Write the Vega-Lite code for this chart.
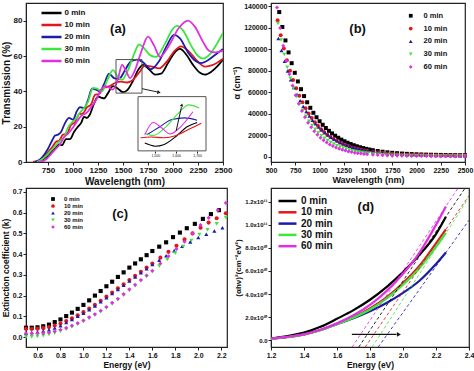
{
"$schema":"https://vega.github.io/schema/vega-lite/v6.json",
"padding":{"left":0,"top":1,"right":0,"bottom":0},
"background":"white",
"bounds":"flush",
"columns":2,
"spacing":{"row":26,"column":44},
"config":{"font":"Liberation Sans","view":{"stroke":"#222","strokeWidth":1.2},
"axis":{"grid":false,"labelFontWeight":"bold","titleFontWeight":"bold","domainColor":"#222","tickColor":"#222","labelColor":"#111","titleColor":"#111","tickSize":3,"labelPadding":1,"titlePadding":2,"labelOverlap":false,"labelFlush":false},
"legend":{"labelFontWeight":"bold","labelColor":"#111","padding":0}},
"resolve":{"scale":{"color":"independent","shape":"independent"},"legend":{"color":"independent","shape":"independent"}},
"datasets":{
"ta":[
{"s":"0 min","w":600,"t":0},{"s":"0 min","w":650,"t":0.3},{"s":"0 min","w":700,"t":1.5},{"s":"0 min","w":750,"t":3.5},{"s":"0 min","w":790,"t":6},{"s":"0 min","w":830,"t":8},{"s":"0 min","w":860,"t":10},{"s":"0 min","w":890,"t":9.5},{"s":"0 min","w":930,"t":13},{"s":"0 min","w":970,"t":13},{"s":"0 min","w":1010,"t":17},{"s":"0 min","w":1050,"t":20},{"s":"0 min","w":1080,"t":22},{"s":"0 min","w":1110,"t":25.5},{"s":"0 min","w":1140,"t":25},{"s":"0 min","w":1170,"t":27},{"s":"0 min","w":1210,"t":33},{"s":"0 min","w":1250,"t":37},{"s":"0 min","w":1280,"t":36.5},{"s":"0 min","w":1310,"t":36},{"s":"0 min","w":1350,"t":39},{"s":"0 min","w":1400,"t":43},{"s":"0 min","w":1450,"t":41.5},{"s":"0 min","w":1500,"t":39.5},{"s":"0 min","w":1540,"t":40.5},{"s":"0 min","w":1600,"t":46},{"s":"0 min","w":1650,"t":52},{"s":"0 min","w":1700,"t":55},{"s":"0 min","w":1760,"t":52.5},{"s":"0 min","w":1820,"t":49.5},{"s":"0 min","w":1880,"t":50},{"s":"0 min","w":1950,"t":56},{"s":"0 min","w":2010,"t":61.5},{"s":"0 min","w":2070,"t":64},{"s":"0 min","w":2130,"t":61},{"s":"0 min","w":2200,"t":55},{"s":"0 min","w":2270,"t":50.5},{"s":"0 min","w":2320,"t":49.5},{"s":"0 min","w":2380,"t":51},{"s":"0 min","w":2440,"t":54},{"s":"0 min","w":2500,"t":58},
{"s":"10 min","w":600,"t":0},{"s":"10 min","w":650,"t":0.5},{"s":"10 min","w":700,"t":2.5},{"s":"10 min","w":750,"t":5.5},{"s":"10 min","w":800,"t":9},{"s":"10 min","w":830,"t":11.5},{"s":"10 min","w":860,"t":12},{"s":"10 min","w":900,"t":15.5},{"s":"10 min","w":940,"t":16},{"s":"10 min","w":980,"t":21},{"s":"10 min","w":1020,"t":22.5},{"s":"10 min","w":1060,"t":27},{"s":"10 min","w":1100,"t":27.5},{"s":"10 min","w":1140,"t":31},{"s":"10 min","w":1180,"t":32.5},{"s":"10 min","w":1220,"t":38},{"s":"10 min","w":1260,"t":38.5},{"s":"10 min","w":1310,"t":42},{"s":"10 min","w":1370,"t":43},{"s":"10 min","w":1430,"t":45},{"s":"10 min","w":1480,"t":45.5},{"s":"10 min","w":1540,"t":45},{"s":"10 min","w":1600,"t":46.5},{"s":"10 min","w":1660,"t":50.5},{"s":"10 min","w":1720,"t":54.5},{"s":"10 min","w":1790,"t":54},{"s":"10 min","w":1860,"t":53},{"s":"10 min","w":1940,"t":57},{"s":"10 min","w":2010,"t":62.5},{"s":"10 min","w":2080,"t":65.5},{"s":"10 min","w":2150,"t":63},{"s":"10 min","w":2230,"t":58},{"s":"10 min","w":2320,"t":54},{"s":"10 min","w":2400,"t":55},{"s":"10 min","w":2500,"t":58.5},
{"s":"20 min","w":620,"t":0},{"s":"20 min","w":670,"t":1.5},{"s":"20 min","w":710,"t":4},{"s":"20 min","w":750,"t":7.5},{"s":"20 min","w":790,"t":12},{"s":"20 min","w":820,"t":15},{"s":"20 min","w":850,"t":15.5},{"s":"20 min","w":880,"t":17},{"s":"20 min","w":920,"t":22},{"s":"20 min","w":960,"t":25},{"s":"20 min","w":1000,"t":24},{"s":"20 min","w":1040,"t":29},{"s":"20 min","w":1070,"t":31},{"s":"20 min","w":1110,"t":30.5},{"s":"20 min","w":1150,"t":35},{"s":"20 min","w":1190,"t":41.5},{"s":"20 min","w":1230,"t":41},{"s":"20 min","w":1270,"t":40},{"s":"20 min","w":1310,"t":44},{"s":"20 min","w":1360,"t":50},{"s":"20 min","w":1410,"t":47.5},{"s":"20 min","w":1460,"t":47},{"s":"20 min","w":1520,"t":52},{"s":"20 min","w":1580,"t":57},{"s":"20 min","w":1640,"t":58},{"s":"20 min","w":1700,"t":56.5},{"s":"20 min","w":1780,"t":52.5},{"s":"20 min","w":1860,"t":57},{"s":"20 min","w":1940,"t":66},{"s":"20 min","w":2010,"t":72},{"s":"20 min","w":2070,"t":70},{"s":"20 min","w":2150,"t":62},{"s":"20 min","w":2230,"t":57},{"s":"20 min","w":2280,"t":56},{"s":"20 min","w":2360,"t":58},{"s":"20 min","w":2430,"t":61},{"s":"20 min","w":2500,"t":64},
{"s":"30 min","w":640,"t":0},{"s":"30 min","w":690,"t":1.5},{"s":"30 min","w":730,"t":3.5},{"s":"30 min","w":780,"t":6.5},{"s":"30 min","w":830,"t":9.5},{"s":"30 min","w":870,"t":12},{"s":"30 min","w":910,"t":14},{"s":"30 min","w":950,"t":19.5},{"s":"30 min","w":990,"t":22.5},{"s":"30 min","w":1030,"t":24.5},{"s":"30 min","w":1070,"t":28},{"s":"30 min","w":1110,"t":30.5},{"s":"30 min","w":1150,"t":34},{"s":"30 min","w":1200,"t":42},{"s":"30 min","w":1240,"t":41.5},{"s":"30 min","w":1290,"t":40},{"s":"30 min","w":1340,"t":46},{"s":"30 min","w":1400,"t":52},{"s":"30 min","w":1450,"t":48},{"s":"30 min","w":1490,"t":46.5},{"s":"30 min","w":1550,"t":52},{"s":"30 min","w":1610,"t":61},{"s":"30 min","w":1660,"t":66.5},{"s":"30 min","w":1710,"t":64.5},{"s":"30 min","w":1770,"t":60.5},{"s":"30 min","w":1830,"t":59.5},{"s":"30 min","w":1920,"t":67},{"s":"30 min","w":2000,"t":75.5},{"s":"30 min","w":2040,"t":77},{"s":"30 min","w":2100,"t":74.5},{"s":"30 min","w":2180,"t":66},{"s":"30 min","w":2250,"t":60},{"s":"30 min","w":2300,"t":58.5},{"s":"30 min","w":2370,"t":61},{"s":"30 min","w":2440,"t":67},{"s":"30 min","w":2500,"t":73},
{"s":"60 min","w":650,"t":0},{"s":"60 min","w":700,"t":0.5},{"s":"60 min","w":740,"t":2},{"s":"60 min","w":780,"t":4.5},{"s":"60 min","w":830,"t":7.5},{"s":"60 min","w":870,"t":10},{"s":"60 min","w":910,"t":14},{"s":"60 min","w":950,"t":16},{"s":"60 min","w":1000,"t":19.5},{"s":"60 min","w":1040,"t":23},{"s":"60 min","w":1090,"t":26.5},{"s":"60 min","w":1130,"t":27.5},{"s":"60 min","w":1180,"t":31},{"s":"60 min","w":1230,"t":35},{"s":"60 min","w":1280,"t":41},{"s":"60 min","w":1320,"t":43},{"s":"60 min","w":1360,"t":42},{"s":"60 min","w":1400,"t":41},{"s":"60 min","w":1450,"t":47},{"s":"60 min","w":1490,"t":55},{"s":"60 min","w":1530,"t":51.5},{"s":"60 min","w":1570,"t":47.5},{"s":"60 min","w":1620,"t":52},{"s":"60 min","w":1680,"t":62},{"s":"60 min","w":1750,"t":71},{"s":"60 min","w":1810,"t":66},{"s":"60 min","w":1870,"t":59.5},{"s":"60 min","w":1950,"t":65},{"s":"60 min","w":2060,"t":76},{"s":"60 min","w":2150,"t":80},{"s":"60 min","w":2220,"t":76.5},{"s":"60 min","w":2300,"t":68},{"s":"60 min","w":2360,"t":63},{"s":"60 min","w":2420,"t":62},{"s":"60 min","w":2500,"t":63}
],
"ab":[
{"s":"0 min","w":585,"a":134400},{"s":"0 min","w":617,"a":120560},{"s":"0 min","w":649,"a":108100},{"s":"0 min","w":681,"a":96980},{"s":"0 min","w":713,"a":87000},{"s":"0 min","w":745,"a":78070},{"s":"0 min","w":777,"a":70070},{"s":"0 min","w":809,"a":62900},{"s":"0 min","w":841,"a":56490},{"s":"0 min","w":873,"a":50750},{"s":"0 min","w":905,"a":45600},{"s":"0 min","w":937,"a":41000},{"s":"0 min","w":969,"a":36870},{"s":"0 min","w":1001,"a":33170},{"s":"0 min","w":1033,"a":29860},{"s":"0 min","w":1065,"a":26900},{"s":"0 min","w":1097,"a":24250},{"s":"0 min","w":1129,"a":21870},{"s":"0 min","w":1161,"a":19740},{"s":"0 min","w":1193,"a":17840},{"s":"0 min","w":1225,"a":16130},{"s":"0 min","w":1257,"a":14600},{"s":"0 min","w":1289,"a":13230},{"s":"0 min","w":1321,"a":12000},{"s":"0 min","w":1353,"a":10900},{"s":"0 min","w":1385,"a":9930},{"s":"0 min","w":1417,"a":9050},{"s":"0 min","w":1449,"a":8260},{"s":"0 min","w":1481,"a":7550},{"s":"0 min","w":1513,"a":6920},{"s":"0 min","w":1550,"a":6270},{"s":"0 min","w":1600,"a":5520},{"s":"0 min","w":1650,"a":4870},{"s":"0 min","w":1700,"a":4340},{"s":"0 min","w":1750,"a":3890},{"s":"0 min","w":1800,"a":3520},{"s":"0 min","w":1850,"a":3190},{"s":"0 min","w":1900,"a":2930},{"s":"0 min","w":1950,"a":2700},{"s":"0 min","w":2000,"a":2510},{"s":"0 min","w":2050,"a":2350},{"s":"0 min","w":2100,"a":2220},{"s":"0 min","w":2150,"a":2100},{"s":"0 min","w":2200,"a":2010},{"s":"0 min","w":2250,"a":1930},{"s":"0 min","w":2300,"a":1860},{"s":"0 min","w":2350,"a":1800},{"s":"0 min","w":2400,"a":1760},{"s":"0 min","w":2450,"a":1710},{"s":"0 min","w":2500,"a":1680},
{"s":"10 min","w":568,"a":126800},{"s":"10 min","w":600,"a":113000},{"s":"10 min","w":632,"a":100700},{"s":"10 min","w":664,"a":89800},{"s":"10 min","w":696,"a":80070},{"s":"10 min","w":728,"a":71400},{"s":"10 min","w":760,"a":63700},{"s":"10 min","w":792,"a":56830},{"s":"10 min","w":824,"a":50700},{"s":"10 min","w":856,"a":45280},{"s":"10 min","w":888,"a":40440},{"s":"10 min","w":920,"a":36130},{"s":"10 min","w":952,"a":32290},{"s":"10 min","w":984,"a":28870},{"s":"10 min","w":1016,"a":25840},{"s":"10 min","w":1048,"a":23130},{"s":"10 min","w":1080,"a":20720},{"s":"10 min","w":1112,"a":18570},{"s":"10 min","w":1144,"a":16670},{"s":"10 min","w":1176,"a":14970},{"s":"10 min","w":1208,"a":13460},{"s":"10 min","w":1240,"a":12110},{"s":"10 min","w":1272,"a":10920},{"s":"10 min","w":1304,"a":9850},{"s":"10 min","w":1336,"a":8900},{"s":"10 min","w":1368,"a":8050},{"s":"10 min","w":1400,"a":7300},{"s":"10 min","w":1432,"a":6620},{"s":"10 min","w":1464,"a":6030},{"s":"10 min","w":1496,"a":5500},{"s":"10 min","w":1550,"a":4730},{"s":"10 min","w":1600,"a":4150},{"s":"10 min","w":1650,"a":3650},{"s":"10 min","w":1700,"a":3250},{"s":"10 min","w":1750,"a":2900},{"s":"10 min","w":1800,"a":2620},{"s":"10 min","w":1850,"a":2390},{"s":"10 min","w":1900,"a":2190},{"s":"10 min","w":1950,"a":2030},{"s":"10 min","w":2000,"a":1890},{"s":"10 min","w":2050,"a":1770},{"s":"10 min","w":2100,"a":1680},{"s":"10 min","w":2150,"a":1600},{"s":"10 min","w":2200,"a":1530},{"s":"10 min","w":2250,"a":1480},{"s":"10 min","w":2300,"a":1430},{"s":"10 min","w":2350,"a":1390},{"s":"10 min","w":2400,"a":1360},{"s":"10 min","w":2450,"a":1330},{"s":"10 min","w":2500,"a":1310},
{"s":"20 min","w":576,"a":109900},{"s":"20 min","w":608,"a":98720},{"s":"20 min","w":640,"a":88710},{"s":"20 min","w":672,"a":79720},{"s":"20 min","w":704,"a":71660},{"s":"20 min","w":736,"a":64420},{"s":"20 min","w":768,"a":57920},{"s":"20 min","w":800,"a":52090},{"s":"20 min","w":832,"a":46850},{"s":"20 min","w":864,"a":42160},{"s":"20 min","w":896,"a":37940},{"s":"20 min","w":928,"a":34150},{"s":"20 min","w":960,"a":30750},{"s":"20 min","w":992,"a":27700},{"s":"20 min","w":1024,"a":24970},{"s":"20 min","w":1056,"a":22520},{"s":"20 min","w":1088,"a":20310},{"s":"20 min","w":1120,"a":18330},{"s":"20 min","w":1152,"a":16550},{"s":"20 min","w":1184,"a":14960},{"s":"20 min","w":1216,"a":13530},{"s":"20 min","w":1248,"a":12240},{"s":"20 min","w":1280,"a":11090},{"s":"20 min","w":1312,"a":10060},{"s":"20 min","w":1344,"a":9125},{"s":"20 min","w":1376,"a":8300},{"s":"20 min","w":1408,"a":7550},{"s":"20 min","w":1440,"a":6880},{"s":"20 min","w":1472,"a":6280},{"s":"20 min","w":1504,"a":5730},{"s":"20 min","w":1550,"a":5060},{"s":"20 min","w":1600,"a":4420},{"s":"20 min","w":1650,"a":3890},{"s":"20 min","w":1700,"a":3440},{"s":"20 min","w":1750,"a":3070},{"s":"20 min","w":1800,"a":2740},{"s":"20 min","w":1850,"a":2470},{"s":"20 min","w":1900,"a":2240},{"s":"20 min","w":1950,"a":2050},{"s":"20 min","w":2000,"a":1890},{"s":"20 min","w":2050,"a":1750},{"s":"20 min","w":2100,"a":1630},{"s":"20 min","w":2150,"a":1530},{"s":"20 min","w":2200,"a":1450},{"s":"20 min","w":2250,"a":1380},{"s":"20 min","w":2300,"a":1320},{"s":"20 min","w":2350,"a":1270},{"s":"20 min","w":2400,"a":1230},{"s":"20 min","w":2450,"a":1190},{"s":"20 min","w":2500,"a":1160},
{"s":"30 min","w":572,"a":123800},{"s":"30 min","w":604,"a":108400},{"s":"30 min","w":636,"a":95000},{"s":"30 min","w":668,"a":83240},{"s":"30 min","w":700,"a":72940},{"s":"30 min","w":732,"a":63940},{"s":"30 min","w":764,"a":56050},{"s":"30 min","w":796,"a":49160},{"s":"30 min","w":828,"a":43120},{"s":"30 min","w":860,"a":37840},{"s":"30 min","w":892,"a":33210},{"s":"30 min","w":924,"a":29170},{"s":"30 min","w":956,"a":25630},{"s":"30 min","w":988,"a":22520},{"s":"30 min","w":1020,"a":19820},{"s":"30 min","w":1052,"a":17440},{"s":"30 min","w":1084,"a":15370},{"s":"30 min","w":1116,"a":13550},{"s":"30 min","w":1148,"a":11960},{"s":"30 min","w":1180,"a":10560},{"s":"30 min","w":1212,"a":9340},{"s":"30 min","w":1244,"a":8280},{"s":"30 min","w":1276,"a":7350},{"s":"30 min","w":1308,"a":6530},{"s":"30 min","w":1340,"a":5810},{"s":"30 min","w":1372,"a":5190},{"s":"30 min","w":1404,"a":4640},{"s":"30 min","w":1436,"a":4160},{"s":"30 min","w":1468,"a":3740},{"s":"30 min","w":1500,"a":3380},{"s":"30 min","w":1550,"a":2900},{"s":"30 min","w":1600,"a":2500},{"s":"30 min","w":1650,"a":2180},{"s":"30 min","w":1700,"a":1920},{"s":"30 min","w":1750,"a":1710},{"s":"30 min","w":1800,"a":1540},{"s":"30 min","w":1850,"a":1400},{"s":"30 min","w":1900,"a":1290},{"s":"30 min","w":1950,"a":1190},{"s":"30 min","w":2000,"a":1120},{"s":"30 min","w":2050,"a":1060},{"s":"30 min","w":2100,"a":1010},{"s":"30 min","w":2150,"a":970},{"s":"30 min","w":2200,"a":940},{"s":"30 min","w":2250,"a":910},{"s":"30 min","w":2300,"a":890},{"s":"30 min","w":2350,"a":870},{"s":"30 min","w":2400,"a":860},{"s":"30 min","w":2450,"a":850},{"s":"30 min","w":2500,"a":840},
{"s":"60 min","w":562,"a":138700},{"s":"60 min","w":594,"a":119600},{"s":"60 min","w":626,"a":103160},{"s":"60 min","w":658,"a":89000},{"s":"60 min","w":690,"a":76790},{"s":"60 min","w":722,"a":66260},{"s":"60 min","w":754,"a":57200},{"s":"60 min","w":786,"a":49390},{"s":"60 min","w":818,"a":42650},{"s":"60 min","w":850,"a":36860},{"s":"60 min","w":882,"a":31860},{"s":"60 min","w":914,"a":27540},{"s":"60 min","w":946,"a":23830},{"s":"60 min","w":978,"a":20630},{"s":"60 min","w":1010,"a":17880},{"s":"60 min","w":1042,"a":15510},{"s":"60 min","w":1074,"a":13450},{"s":"60 min","w":1106,"a":11680},{"s":"60 min","w":1138,"a":10170},{"s":"60 min","w":1170,"a":8860},{"s":"60 min","w":1202,"a":7740},{"s":"60 min","w":1234,"a":6760},{"s":"60 min","w":1266,"a":5920},{"s":"60 min","w":1298,"a":5200},{"s":"60 min","w":1330,"a":4580},{"s":"60 min","w":1362,"a":4040},{"s":"60 min","w":1394,"a":3580},{"s":"60 min","w":1426,"a":3180},{"s":"60 min","w":1458,"a":2840},{"s":"60 min","w":1490,"a":2540},{"s":"60 min","w":1550,"a":2090},{"s":"60 min","w":1600,"a":1800},{"s":"60 min","w":1650,"a":1580},{"s":"60 min","w":1700,"a":1390},{"s":"60 min","w":1750,"a":1250},{"s":"60 min","w":1800,"a":1140},{"s":"60 min","w":1850,"a":1050},{"s":"60 min","w":1900,"a":970},{"s":"60 min","w":1950,"a":920},{"s":"60 min","w":2000,"a":870},{"s":"60 min","w":2050,"a":840},{"s":"60 min","w":2100,"a":810},{"s":"60 min","w":2150,"a":790},{"s":"60 min","w":2200,"a":780},{"s":"60 min","w":2250,"a":770},{"s":"60 min","w":2300,"a":760},{"s":"60 min","w":2350,"a":750},{"s":"60 min","w":2400,"a":740},{"s":"60 min","w":2450,"a":730},{"s":"60 min","w":2500,"a":720}
],
"kc":[
{"s":"0 min","e":0.5,"k":0.045},{"s":"0 min","e":0.55,"k":0.045},{"s":"0 min","e":0.6,"k":0.047},{"s":"0 min","e":0.65,"k":0.052},{"s":"0 min","e":0.7,"k":0.06},{"s":"0 min","e":0.75,"k":0.072},{"s":"0 min","e":0.8,"k":0.085},{"s":"0 min","e":0.85,"k":0.101},{"s":"0 min","e":0.9,"k":0.118},{"s":"0 min","e":0.95,"k":0.136},{"s":"0 min","e":1.0,"k":0.155},{"s":"0 min","e":1.05,"k":0.177},{"s":"0 min","e":1.1,"k":0.2},{"s":"0 min","e":1.15,"k":0.222},{"s":"0 min","e":1.2,"k":0.245},{"s":"0 min","e":1.25,"k":0.267},{"s":"0 min","e":1.3,"k":0.29},{"s":"0 min","e":1.35,"k":0.312},{"s":"0 min","e":1.4,"k":0.335},{"s":"0 min","e":1.45,"k":0.355},{"s":"0 min","e":1.5,"k":0.375},{"s":"0 min","e":1.55,"k":0.395},{"s":"0 min","e":1.6,"k":0.415},{"s":"0 min","e":1.66,"k":0.436},{"s":"0 min","e":1.72,"k":0.457},{"s":"0 min","e":1.78,"k":0.482},{"s":"0 min","e":1.84,"k":0.504},{"s":"0 min","e":1.9,"k":0.525},{"s":"0 min","e":1.97,"k":0.546},{"s":"0 min","e":2.04,"k":0.57},{"s":"0 min","e":2.11,"k":0.593},{"s":"0 min","e":2.18,"k":0.612},
{"s":"10 min","e":0.5,"k":0.04},{"s":"10 min","e":0.55,"k":0.039},{"s":"10 min","e":0.6,"k":0.04},{"s":"10 min","e":0.65,"k":0.043},{"s":"10 min","e":0.7,"k":0.048},{"s":"10 min","e":0.75,"k":0.056},{"s":"10 min","e":0.8,"k":0.065},{"s":"10 min","e":0.85,"k":0.077},{"s":"10 min","e":0.9,"k":0.09},{"s":"10 min","e":0.95,"k":0.105},{"s":"10 min","e":1.0,"k":0.12},{"s":"10 min","e":1.05,"k":0.137},{"s":"10 min","e":1.1,"k":0.155},{"s":"10 min","e":1.15,"k":0.175},{"s":"10 min","e":1.2,"k":0.195},{"s":"10 min","e":1.25,"k":0.215},{"s":"10 min","e":1.3,"k":0.235},{"s":"10 min","e":1.35,"k":0.255},{"s":"10 min","e":1.4,"k":0.275},{"s":"10 min","e":1.45,"k":0.295},{"s":"10 min","e":1.5,"k":0.315},{"s":"10 min","e":1.55,"k":0.335},{"s":"10 min","e":1.6,"k":0.355},{"s":"10 min","e":1.67,"k":0.383},{"s":"10 min","e":1.74,"k":0.411},{"s":"10 min","e":1.81,"k":0.44},{"s":"10 min","e":1.88,"k":0.471},{"s":"10 min","e":1.95,"k":0.5},{"s":"10 min","e":2.02,"k":0.527},{"s":"10 min","e":2.09,"k":0.552},{"s":"10 min","e":2.16,"k":0.573},{"s":"10 min","e":2.24,"k":0.597},
{"s":"20 min","e":0.5,"k":0.02},{"s":"20 min","e":0.55,"k":0.022},{"s":"20 min","e":0.6,"k":0.025},{"s":"20 min","e":0.65,"k":0.029},{"s":"20 min","e":0.7,"k":0.035},{"s":"20 min","e":0.75,"k":0.044},{"s":"20 min","e":0.8,"k":0.055},{"s":"20 min","e":0.85,"k":0.07},{"s":"20 min","e":0.9,"k":0.085},{"s":"20 min","e":0.95,"k":0.1},{"s":"20 min","e":1.0,"k":0.115},{"s":"20 min","e":1.05,"k":0.132},{"s":"20 min","e":1.1,"k":0.15},{"s":"20 min","e":1.15,"k":0.17},{"s":"20 min","e":1.2,"k":0.19},{"s":"20 min","e":1.25,"k":0.21},{"s":"20 min","e":1.3,"k":0.23},{"s":"20 min","e":1.35,"k":0.25},{"s":"20 min","e":1.4,"k":0.27},{"s":"20 min","e":1.45,"k":0.29},{"s":"20 min","e":1.5,"k":0.31},{"s":"20 min","e":1.55,"k":0.33},{"s":"20 min","e":1.6,"k":0.35},{"s":"20 min","e":1.66,"k":0.371},{"s":"20 min","e":1.72,"k":0.392},{"s":"20 min","e":1.79,"k":0.417},{"s":"20 min","e":1.86,"k":0.438},{"s":"20 min","e":1.93,"k":0.459},{"s":"20 min","e":2.0,"k":0.48},{"s":"20 min","e":2.07,"k":0.496},{"s":"20 min","e":2.14,"k":0.512},{"s":"20 min","e":2.21,"k":0.527},
{"s":"30 min","e":0.5,"k":0.0},{"s":"30 min","e":0.55,"k":0.001},{"s":"30 min","e":0.6,"k":0.003},{"s":"30 min","e":0.65,"k":0.007},{"s":"30 min","e":0.7,"k":0.012},{"s":"30 min","e":0.75,"k":0.019},{"s":"30 min","e":0.8,"k":0.028},{"s":"30 min","e":0.85,"k":0.038},{"s":"30 min","e":0.9,"k":0.05},{"s":"30 min","e":0.95,"k":0.062},{"s":"30 min","e":1.0,"k":0.075},{"s":"30 min","e":1.05,"k":0.09},{"s":"30 min","e":1.1,"k":0.105},{"s":"30 min","e":1.15,"k":0.122},{"s":"30 min","e":1.2,"k":0.14},{"s":"30 min","e":1.25,"k":0.16},{"s":"30 min","e":1.3,"k":0.18},{"s":"30 min","e":1.35,"k":0.202},{"s":"30 min","e":1.4,"k":0.225},{"s":"30 min","e":1.45,"k":0.247},{"s":"30 min","e":1.5,"k":0.27},{"s":"30 min","e":1.55,"k":0.292},{"s":"30 min","e":1.6,"k":0.315},{"s":"30 min","e":1.66,"k":0.342},{"s":"30 min","e":1.73,"k":0.374},{"s":"30 min","e":1.8,"k":0.405},{"s":"30 min","e":1.87,"k":0.437},{"s":"30 min","e":1.94,"k":0.466},{"s":"30 min","e":2.01,"k":0.494},{"s":"30 min","e":2.08,"k":0.518},{"s":"30 min","e":2.16,"k":0.546},{"s":"30 min","e":2.24,"k":0.576},
{"s":"60 min","e":0.5,"k":0.018},{"s":"60 min","e":0.55,"k":0.017},{"s":"60 min","e":0.6,"k":0.018},{"s":"60 min","e":0.65,"k":0.019},{"s":"60 min","e":0.7,"k":0.022},{"s":"60 min","e":0.75,"k":0.028},{"s":"60 min","e":0.8,"k":0.035},{"s":"60 min","e":0.85,"k":0.044},{"s":"60 min","e":0.9,"k":0.055},{"s":"60 min","e":0.95,"k":0.067},{"s":"60 min","e":1.0,"k":0.08},{"s":"60 min","e":1.05,"k":0.095},{"s":"60 min","e":1.1,"k":0.11},{"s":"60 min","e":1.15,"k":0.127},{"s":"60 min","e":1.2,"k":0.145},{"s":"60 min","e":1.25,"k":0.165},{"s":"60 min","e":1.3,"k":0.185},{"s":"60 min","e":1.35,"k":0.207},{"s":"60 min","e":1.4,"k":0.23},{"s":"60 min","e":1.45,"k":0.252},{"s":"60 min","e":1.5,"k":0.275},{"s":"60 min","e":1.55,"k":0.297},{"s":"60 min","e":1.6,"k":0.32},{"s":"60 min","e":1.67,"k":0.355},{"s":"60 min","e":1.74,"k":0.39},{"s":"60 min","e":1.81,"k":0.425},{"s":"60 min","e":1.88,"k":0.46},{"s":"60 min","e":1.95,"k":0.5},{"s":"60 min","e":2.02,"k":0.54},{"s":"60 min","e":2.09,"k":0.575},{"s":"60 min","e":2.17,"k":0.612},{"s":"60 min","e":2.24,"k":0.647}
],
"td":[
{"s":"0 min","e":1.2,"y":1.5e9},{"s":"0 min","e":1.3,"y":3.5e9},{"s":"0 min","e":1.4,"y":6.5e9},{"s":"0 min","e":1.5,"y":1.15e10},{"s":"0 min","e":1.6,"y":1.85e10},{"s":"0 min","e":1.7,"y":2.6e10},{"s":"0 min","e":1.8,"y":3.5e10},{"s":"0 min","e":1.9,"y":4.6e10},{"s":"0 min","e":2.0,"y":5.9e10},{"s":"0 min","e":2.1,"y":7.4e10},{"s":"0 min","e":2.2,"y":9.2e10},{"s":"0 min","e":2.26,"y":1.07e11},
{"s":"10 min","e":1.2,"y":1.2e9},{"s":"10 min","e":1.3,"y":2.8e9},{"s":"10 min","e":1.4,"y":5.0e9},{"s":"10 min","e":1.5,"y":8.8e9},{"s":"10 min","e":1.6,"y":1.42e10},{"s":"10 min","e":1.7,"y":2.0e10},{"s":"10 min","e":1.8,"y":2.75e10},{"s":"10 min","e":1.9,"y":3.7e10},{"s":"10 min","e":2.0,"y":4.95e10},{"s":"10 min","e":2.1,"y":6.45e10},{"s":"10 min","e":2.2,"y":8.4e10},{"s":"10 min","e":2.26,"y":9.6e10},
{"s":"20 min","e":1.2,"y":1.2e9},{"s":"20 min","e":1.3,"y":2.8e9},{"s":"20 min","e":1.4,"y":5.0e9},{"s":"20 min","e":1.5,"y":8.7e9},{"s":"20 min","e":1.6,"y":1.38e10},{"s":"20 min","e":1.7,"y":1.9e10},{"s":"20 min","e":1.8,"y":2.5e10},{"s":"20 min","e":1.9,"y":3.22e10},{"s":"20 min","e":2.0,"y":4.1e10},{"s":"20 min","e":2.1,"y":5.15e10},{"s":"20 min","e":2.2,"y":6.6e10},{"s":"20 min","e":2.26,"y":7.6e10},
{"s":"30 min","e":1.2,"y":1.0e9},{"s":"30 min","e":1.3,"y":2.5e9},{"s":"30 min","e":1.4,"y":4.7e9},{"s":"30 min","e":1.5,"y":8.5e9},{"s":"30 min","e":1.6,"y":1.38e10},{"s":"30 min","e":1.7,"y":1.95e10},{"s":"30 min","e":1.8,"y":2.65e10},{"s":"30 min","e":1.9,"y":3.6e10},{"s":"30 min","e":2.0,"y":4.8e10},{"s":"30 min","e":2.1,"y":6.25e10},{"s":"30 min","e":2.2,"y":8.1e10},{"s":"30 min","e":2.26,"y":9.3e10},
{"s":"60 min","e":1.2,"y":1.2e9},{"s":"60 min","e":1.3,"y":2.8e9},{"s":"60 min","e":1.4,"y":5.0e9},{"s":"60 min","e":1.5,"y":9.0e9},{"s":"60 min","e":1.6,"y":1.45e10},{"s":"60 min","e":1.7,"y":2.15e10},{"s":"60 min","e":1.8,"y":3.05e10},{"s":"60 min","e":1.9,"y":4.25e10},{"s":"60 min","e":2.0,"y":5.75e10},{"s":"60 min","e":2.1,"y":7.6e10},{"s":"60 min","e":2.2,"y":1.0e11},{"s":"60 min","e":2.26,"y":1.16e11}
],
"tg":[
{"s":"0 min","e":1.732,"y":-6e9},{"s":"0 min","e":2.4,"y":1.37e11},
{"s":"10 min","e":1.771,"y":-6e9},{"s":"10 min","e":2.4,"y":1.254e11},
{"s":"20 min","e":1.85,"y":-6e9},{"s":"20 min","e":2.4,"y":1.04e11},
{"s":"30 min","e":1.813,"y":-6e9},{"s":"30 min","e":2.4,"y":1.238e11},
{"s":"60 min","e":1.692,"y":-6e9},{"s":"60 min","e":2.4,"y":1.462e11}
]
},
"concat":[
{"width":197,"height":159,
"resolve":{"scale":{"x":"independent","y":"independent"}},
"layer":[
{"layer":[
{"data":{"name":"ta"},"mark":{"type":"line","interpolate":"monotone","strokeWidth":1.8,"clip":true},
"encoding":{
"x":{"field":"w","type":"quantitative","scale":{"domain":[530,2500],"nice":false,"zero":false},"axis":{"values":[750,1000,1250,1500,1750,2000,2250,2500],"tickCount":20,"format":"d","labelOverlap":false,"labelFlush":false,"title":"Wavelength (nm)","labelFontSize":8,"titleFontSize":10}},
"y":{"field":"t","type":"quantitative","scale":{"domain":[0,90],"nice":false,"zero":false},"axis":{"values":[0,20,40,60,80],"tickCount":20,"labelOverlap":false,"labelFlush":false,"title":"Transmission (%)","labelFontSize":8,"titleFontSize":10}},
"color":{"field":"s","type":"nominal","scale":{"domain":["0 min","10 min","20 min","30 min","60 min"],"range":["#000000","#e3161c","#1c1caa","#3de63d","#e030e0"]},
"legend":{"title":null,"orient":"none","legendX":29,"legendY":6,"symbolType":"M-7,0H1","symbolSize":25,"symbolStrokeWidth":2.5,"labelFontSize":8,"labelOffset":1.5,"rowPadding":2}}}},
{"data":{"values":[{"x":1430,"x2":1690,"y":39,"y2":58}]},"mark":{"type":"rect","fillOpacity":0,"stroke":"#555","strokeWidth":1},
"encoding":{"x":{"field":"x","type":"quantitative"},"x2":{"field":"x2"},"y":{"field":"y","type":"quantitative"},"y2":{"field":"y2"}}},
{"data":{"values":[{"x":1650,"x2":2330,"y":6.3,"y2":37}]},"mark":{"type":"rect","fill":"white","stroke":"#555","strokeWidth":1},
"encoding":{"x":{"field":"x","type":"quantitative"},"x2":{"field":"x2"},"y":{"field":"y","type":"quantitative"},"y2":{"field":"y2"}}},
{"data":{"values":[{"x":1690,"y":41.5,"x2":1855,"y2":39.5}]},"mark":{"type":"rule","stroke":"#222","strokeWidth":1},
"encoding":{"x":{"field":"x","type":"quantitative"},"x2":{"field":"x2"},"y":{"field":"y","type":"quantitative"},"y2":{"field":"y2"}}},
{"data":{"values":[{"x":1860,"y":39.4}]},"mark":{"type":"point","shape":"triangle-right","filled":true,"color":"#222","size":16,"angle":12,"opacity":1},
"encoding":{"x":{"field":"x","type":"quantitative"},"y":{"field":"y","type":"quantitative"}}},
{"data":{"values":[{"l":"(a)","x":1450,"y":75.4}]},"mark":{"type":"text","fontSize":13,"fontWeight":"bold","color":"#111"},
"encoding":{"x":{"field":"x","type":"quantitative"},"y":{"field":"y","type":"quantitative"},"text":{"field":"l"}}}
]},
{"layer":[
{"data":{"name":"ta"},"transform":[{"filter":"datum.w >= 1420 && datum.w <= 1740"}],"mark":{"type":"line","interpolate":"monotone","strokeWidth":1.1},
"encoding":{
"x":{"field":"w","type":"quantitative","scale":{"domain":[1420,1740],"range":[112.5,179.5],"nice":false,"zero":false},"axis":{"orient":"bottom","offset":-11,"values":[1500,1600,1700],"tickCount":20,"labelOverlap":false,"labelFlush":false,"labelFontSize":3.5,"labelFontWeight":"normal","tickSize":2,"domain":false,"title":null,"labelPadding":0}},
"y":{"field":"t","type":"quantitative","scale":{"domain":[37,71],"range":[147,95],"nice":false,"zero":false},"axis":null},
"color":{"field":"s","type":"nominal","legend":null}}},
{"data":{"values":[{"x":1600,"y":49.6,"x2":1625,"y2":65}]},"mark":{"type":"rule","stroke":"#111","strokeWidth":1},
"encoding":{"x":{"field":"x","type":"quantitative"},"x2":{"field":"x2"},"y":{"field":"y","type":"quantitative"},"y2":{"field":"y2"}}},
{"data":{"values":[{"x":1627,"y":66.5}]},"mark":{"type":"point","shape":"triangle-up","filled":true,"color":"#111","size":12,"angle":12,"opacity":1},
"encoding":{"x":{"field":"x","type":"quantitative"},"y":{"field":"y","type":"quantitative"}}}
]}
]},
{"width":194,"height":159,
"layer":[
{"data":{"name":"ab"},"mark":{"type":"point","filled":true,"size":16,"opacity":1},
"encoding":{
"x":{"field":"w","type":"quantitative","scale":{"domain":[500,2500],"nice":false,"zero":false},"axis":{"values":[500,750,1000,1250,1500,1750,2000,2250,2500],"tickCount":20,"format":"d","labelOverlap":false,"labelFlush":false,"title":"Wavelength (nm)","labelFontSize":7,"titleFontSize":9}},
"y":{"field":"a","type":"quantitative","scale":{"domain":[-4640,142800],"nice":false,"zero":false},"axis":{"values":[0,20000,40000,60000,80000,100000,120000,140000],"tickCount":20,"format":"d","labelOverlap":false,"labelFlush":false,"title":"α (cm⁻¹)","labelFontSize":7,"titleFontSize":9}},
"color":{"field":"s","type":"nominal","scale":{"domain":["0 min","10 min","20 min","30 min","60 min"],"range":["#000000","#e3161c","#1c1caa","#3de63d","#e030e0"]},
"legend":{"title":null,"orient":"none","legendX":136,"legendY":9,"symbolSize":14,"labelFontSize":7.5,"labelOffset":9,"rowPadding":3.8}},
"shape":{"field":"s","type":"nominal","scale":{"domain":["0 min","10 min","20 min","30 min","60 min"],"range":["square","circle","triangle-up","triangle-down","diamond"]},
"legend":{"title":null,"orient":"none","legendX":136,"legendY":9,"symbolSize":14,"labelFontSize":7.5,"labelOffset":9,"rowPadding":3.8}}}},
{"data":{"values":[{"l":"(b)","x":1393,"y":118700}]},"mark":{"type":"text","fontSize":13,"fontWeight":"bold","color":"#111"},
"encoding":{"x":{"field":"x","type":"quantitative"},"y":{"field":"y","type":"quantitative"},"text":{"field":"l"}}}
]},
{"width":201,"height":159,
"layer":[
{"data":{"name":"kc"},"mark":{"type":"point","filled":true,"size":17,"opacity":1},
"encoding":{
"x":{"field":"e","type":"quantitative","scale":{"domain":[0.5,2.25],"nice":false,"zero":false},"axis":{"values":[0.6,0.8,1.0,1.2,1.4,1.6,1.8,2.0,2.2],"tickCount":20,"format":".1f","labelOverlap":false,"labelFlush":false,"title":"Energy (eV)","labelFontSize":7,"titleFontSize":8.5}},
"y":{"field":"k","type":"quantitative","scale":{"domain":[-0.048,0.719],"nice":false,"zero":false},"axis":{"values":[0,0.1,0.2,0.3,0.4,0.5,0.6,0.7],"tickCount":20,"format":".1f","labelOverlap":false,"labelFlush":false,"title":"Extinction coefficient (k)","labelFontSize":7,"titleFontSize":8.5}},
"color":{"field":"s","type":"nominal","scale":{"domain":["0 min","10 min","20 min","30 min","60 min"],"range":["#000000","#e3161c","#1c1caa","#3de63d","#e030e0"]},
"legend":{"title":null,"orient":"none","legendX":24,"legendY":8,"symbolSize":14,"labelFontSize":6,"labelOffset":8,"rowPadding":1}},
"shape":{"field":"s","type":"nominal","scale":{"domain":["0 min","10 min","20 min","30 min","60 min"],"range":["square","circle","triangle-up","triangle-down","diamond"]},
"legend":{"title":null,"orient":"none","legendX":24,"legendY":8,"symbolSize":14,"labelFontSize":6,"labelOffset":8,"rowPadding":1}}}},
{"data":{"values":[{"l":"(c)","x":1.32,"y":0.594}]},"mark":{"type":"text","fontSize":13,"fontWeight":"bold","color":"#111"},
"encoding":{"x":{"field":"x","type":"quantitative"},"y":{"field":"y","type":"quantitative"},"text":{"field":"l"}}}
]},
{"width":198,"height":159,
"layer":[
{"data":{"name":"td"},"mark":{"type":"line","interpolate":"monotone","strokeWidth":2.2,"clip":true},
"encoding":{
"x":{"field":"e","type":"quantitative","scale":{"domain":[1.2,2.4],"nice":false,"zero":false},"axis":{"values":[1.2,1.4,1.6,1.8,2.0,2.2,2.4],"tickCount":20,"format":".1f","labelOverlap":false,"labelFlush":false,"title":"Energy (eV)","labelFontSize":7,"titleFontSize":8.5}},
"y":{"field":"y","type":"quantitative","scale":{"domain":[-6e9,1.32e11],"nice":false,"zero":false},"axis":{"values":[0,2e10,4e10,6e10,8e10,1e11,1.2e11],"tickCount":20,"labelOverlap":false,"labelFlush":false,"labelExpr":"datum.value == 0 ? '0.0' : (datum.value < 9.9e10 ? format(datum.value/1e10, '.1f') + 'x10¹⁰' : format(datum.value/1e11, '.1f') + 'x10¹¹')","title":"(αhν)²(cm⁻²eV²)","labelFontSize":6,"titleFontSize":8}},
"color":{"field":"s","type":"nominal","scale":{"domain":["0 min","10 min","20 min","30 min","60 min"],"range":["#000000","#e3161c","#1c1caa","#3de63d","#e030e0"]},
"legend":{"title":null,"orient":"none","legendX":18,"legendY":8,"symbolType":"M-6.2,0H1","symbolSize":25,"symbolStrokeWidth":2.5,"labelFontSize":10,"labelOffset":2,"rowPadding":1.3}}}},
{"data":{"name":"tg"},"mark":{"type":"line","strokeWidth":1,"strokeDash":[3,2.5],"clip":true,"opacity":0.85},
"encoding":{"x":{"field":"e","type":"quantitative"},"y":{"field":"y","type":"quantitative"},"color":{"field":"s","type":"nominal","legend":null}}},
{"data":{"values":[{"x":1.69,"y":4.9e9,"x2":1.96}]},"mark":{"type":"rule","stroke":"#111","strokeWidth":1.2},
"encoding":{"x":{"field":"x","type":"quantitative"},"x2":{"field":"x2"},"y":{"field":"y","type":"quantitative"}}},
{"data":{"values":[{"x":1.975,"y":4.9e9}]},"mark":{"type":"point","shape":"triangle-right","filled":true,"color":"#111","size":22,"opacity":1},
"encoding":{"x":{"field":"x","type":"quantitative"},"y":{"field":"y","type":"quantitative"}}},
{"data":{"values":[{"l":"(d)","x":1.775,"y":1.157e11}]},"mark":{"type":"text","fontSize":13,"fontWeight":"bold","color":"#111"},
"encoding":{"x":{"field":"x","type":"quantitative"},"y":{"field":"y","type":"quantitative"},"text":{"field":"l"}}}
]}
]
}
